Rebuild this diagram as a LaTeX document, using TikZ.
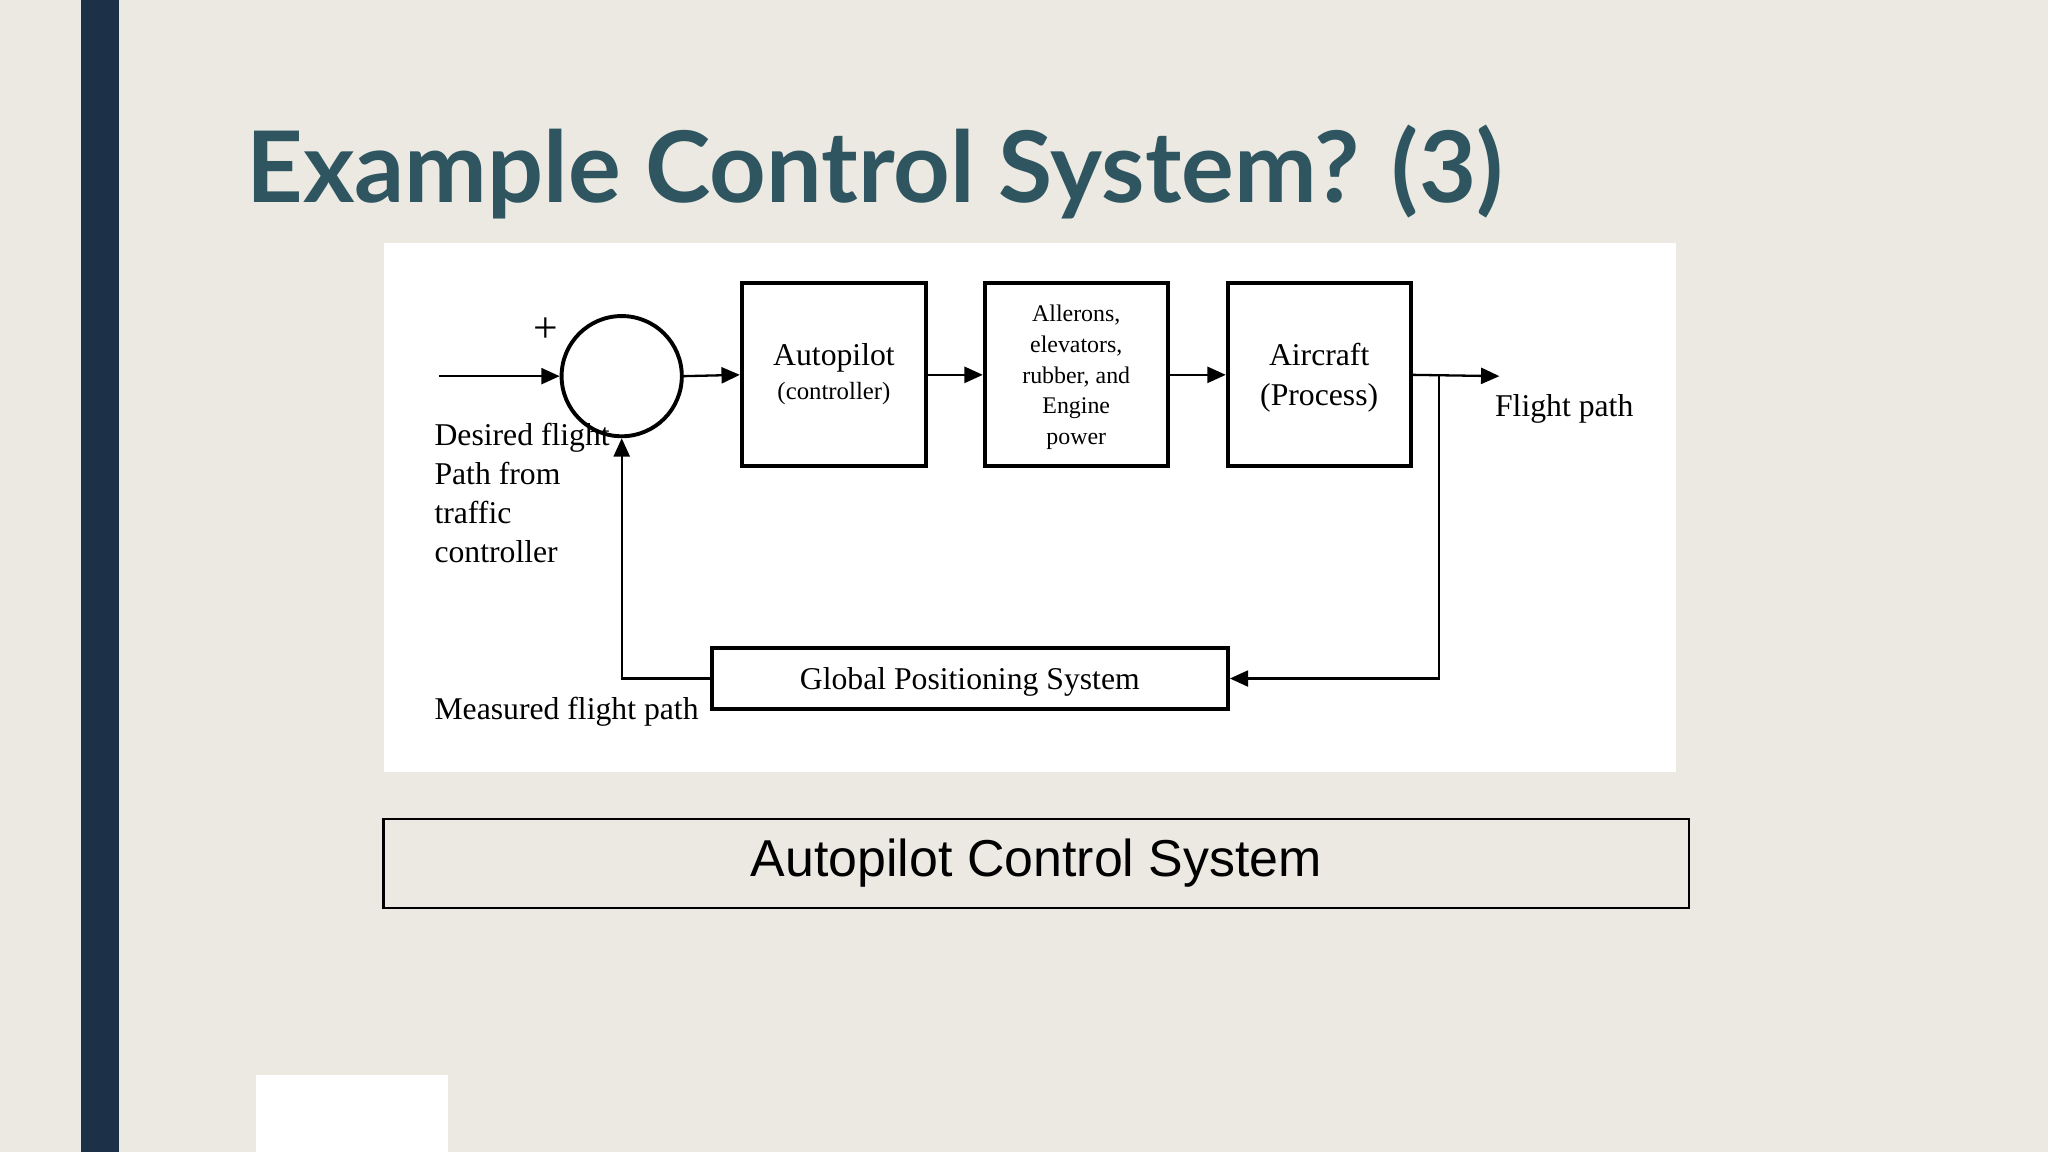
\documentclass[tikz,border=0pt]{standalone}
\usepackage{fontspec}
\setmainfont{Liberation Serif}
\newfontfamily\titlef{Lato}
\newfontfamily\capf{Liberation Sans}
\usetikzlibrary{arrows.meta}
\definecolor{bg}{HTML}{ECE9E2}
\definecolor{navy}{HTML}{1C3048}
\definecolor{ttl}{HTML}{2E5560}
\begin{document}
\begin{tikzpicture}[x=0.01cm,y=-0.01cm,
  blk/.style={draw,line width=0.85pt,inner sep=0},
  arr/.style={line width=0.5pt,-{Triangle[length=4pt,width=3.5pt]}},
  t/.style={font=\fontsize{6.9}{8.5}\selectfont,inner sep=0},
  s/.style={font=\fontsize{5.2}{6.7}\selectfont,inner sep=0,align=center}]
\useasboundingbox (0,0) rectangle (1568,882);
\fill[bg] (0,0) rectangle (1568,882);
\fill[navy] (62,0) rectangle (91,882);
\fill[white] (196,823) rectangle (343,882);
\node[anchor=base west,inner sep=0,text=ttl,font=\titlef\fontsize{21.5}{26}\selectfont\bfseries] (title) at (188,155) {Example Control System? (3)};
\fill[white] (294,186) rectangle (1283,591);
\node[draw,line width=0.5pt,minimum width=9.99cm,minimum height=0.68cm,inner sep=0,font=\capf\fontsize{11.3}{13}\selectfont] (cap) at (793.5,661) {Autopilot Control System};
% diagram
\node[draw,circle,line width=0.85pt,minimum size=0.92cm,inner sep=0] (sum) at (476,288) {};
\node[blk,minimum width=1.41cm,minimum height=1.4cm] (ap) at (638.5,287) {};
\node[t,align=center] at (638.5,274) {Autopilot};
\node[s,font=\fontsize{5.4}{6.7}\selectfont] at (638.5,301) {(controller)};
\node[blk,minimum width=1.4cm,minimum height=1.4cm] (act) at (824,287) {};
\node[s] at (824,289) {Allerons,\\elevators,\\rubber, and\\Engine\\power};
\node[blk,minimum width=1.4cm,minimum height=1.4cm] (ac) at (1010,287) {};
\node[t,align=center,font=\fontsize{6.9}{8.7}\selectfont] at (1010,289) {Aircraft\\(Process)};
\node[blk,minimum width=3.95cm,minimum height=0.47cm] (gps) at (742.5,519.5) {};
\node[t] at (742.5,522) {Global Positioning System};
\coordinate (in) at (336,288);
\coordinate (out) at (1148,288);
\coordinate (br) at (1102,288);
\draw[arr] (in) -- (sum.west);
\draw[arr] (sum.east) -- (ap.west);
\draw[arr] (ap.east) -- (act.west);
\draw[arr] (act.east) -- (ac.west);
\draw[arr] (ac.east) -- (out);
\draw[arr] (br) |- (gps.east);
\draw[arr] (gps.west) -| (sum.south);
\node[font=\fontsize{9.5}{10}\selectfont,inner sep=0] (plus) at (418,253) {+};
\node[t,anchor=north west,align=left] (dl) at (332,323) {Desired flight\\Path from\\traffic\\controller};
\node[t,anchor=west] (ml) at (332,545) {Measured flight path};
\node[t,anchor=west] (fl) at (1144,313) {Flight path};
\end{tikzpicture}
\end{document}
